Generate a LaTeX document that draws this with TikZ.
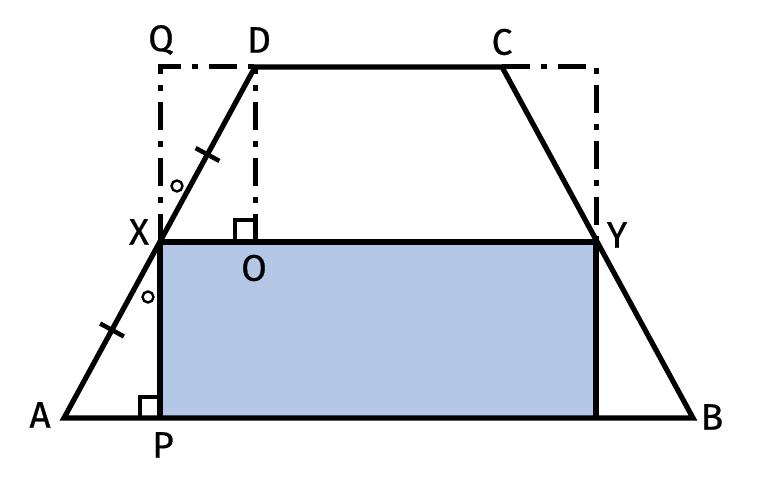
\documentclass[tikz,border=0pt]{standalone}
\usepackage{fontspec}
\usetikzlibrary{calc}
\setmainfont{Fira Sans}[FakeBold=0.6]
\definecolor{fillblue}{HTML}{B4C7E7}
\begin{document}
\begin{tikzpicture}[x=1pt,y=-1pt,
  edge/.style={line width=5.2pt,line join=miter},
  dd/.style={line width=5pt,dash pattern=on 28pt off 11pt on 6pt off 11pt},
  lbl/.style={font=\fontsize{37}{37}\selectfont,inner sep=0pt},
  tick/.style={line width=4.5pt},
  ang/.style={line width=3.5pt}]
\useasboundingbox (0,0) rectangle (761,494);
\coordinate (A) at (64,418);
\coordinate (B) at (693,418);
\coordinate (C) at (502,67);
\coordinate (D) at (255,67);
\coordinate (Q) at (160,67);
\coordinate (R) at (596,67);
\coordinate (X) at (160,242);
\coordinate (Y) at (596,242);
\coordinate (O) at (255,242);
\coordinate (P) at (160,418);
\coordinate (S) at (596,418);
\fill[fillblue] (X) rectangle (S);
\draw[dd] (X) -- (Q) -- (D);
\draw[dd] (O) -- (D);
\draw[dd] (C) -- (R) -- (Y);
\draw[edge] (A) -- (B) -- (C) -- (D) -- cycle;
\draw[edge] (X) -- (Y) -- (S);
\draw[edge] (X) -- (P);
\draw[ang] (235,242) -- (235,220) -- (255,220);
\draw[ang] (140,418) -- (140,397) -- (160,397);
\draw[tick] ($(X)!0.5!(D)!13.5pt!90:(D)$) -- ($(X)!0.5!(D)!13.5pt!-90:(D)$);
\draw[tick] ($(A)!0.5!(X)!13.5pt!90:(X)$) -- ($(A)!0.5!(X)!13.5pt!-90:(X)$);
\draw[line width=2.4pt] (177,186) circle (5.5);
\draw[line width=2.4pt] (148,297) circle (5.5);
\node[lbl] (lQ) at (161,40) {Q};
\node[lbl] (lD) at (259,40) {D};
\node[lbl] (lC) at (502,42) {C};
\node[lbl] (lX) at (139,232) {X};
\node[lbl] (lY) at (617,235) {Y};
\node[lbl] (lO) at (254,268) {O};
\node[lbl] (lA) at (40,415) {A};
\node[lbl] (lB) at (712,417) {B};
\node[lbl] (lP) at (163,445) {P};
\end{tikzpicture}
\end{document}
